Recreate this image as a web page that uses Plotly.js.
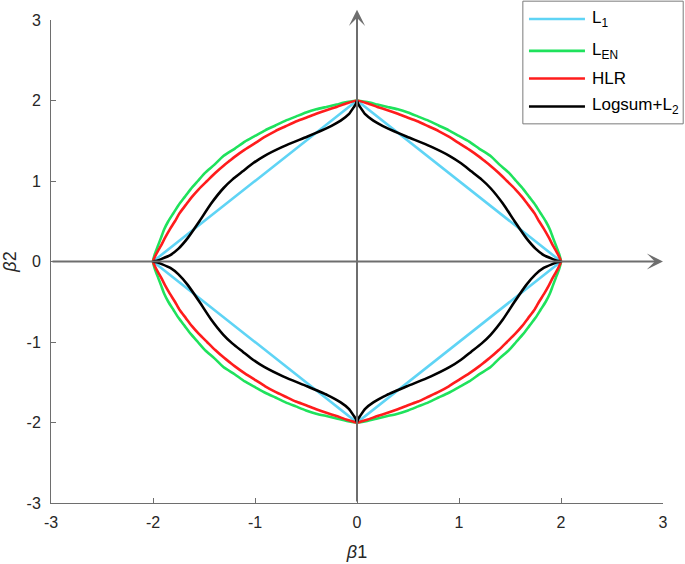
<!DOCTYPE html>
<html>
<head>
<meta charset="utf-8">
<script src="https://cdn.plot.ly/plotly-3.0.1.min.js"></script>
<style>html,body{margin:0;padding:0;background:#fff;}#chart{width:685px;height:564px;}</style>
</head>
<body>
<div id="chart"></div>
<script>
// L1 ball (diamond)
var l1X = [0, 2, 0, -2, 0];
var l1Y = [2, 0, -2, 0, 2];

// Elastic net contour (L_EN)
var enX = [0,0.1,0.2,0.3,0.4,0.5,0.6,0.7,0.8,0.9,1.0,1.1,1.2,1.31,1.4,1.49,1.56,1.63,1.69,1.75,1.8,1.85,1.89,1.92,1.95,1.98,2,
  1.98,1.95,1.92,1.89,1.85,1.8,1.75,1.69,1.63,1.56,1.49,1.4,1.31,1.2,1.1,1.0,0.9,0.8,0.7,0.6,0.5,0.4,0.3,0.2,0.1,0,
  -0.1,-0.2,-0.3,-0.4,-0.5,-0.6,-0.7,-0.8,-0.9,-1.0,-1.1,-1.2,-1.31,-1.4,-1.49,-1.56,-1.63,-1.69,-1.75,-1.8,-1.85,-1.89,-1.92,-1.95,-1.98,-2,
  -1.98,-1.95,-1.92,-1.89,-1.85,-1.8,-1.75,-1.69,-1.63,-1.56,-1.49,-1.4,-1.31,-1.2,-1.1,-1.0,-0.9,-0.8,-0.7,-0.6,-0.5,-0.4,-0.3,-0.2,-0.1,0];
var enY = [2,1.98,1.95,1.92,1.89,1.85,1.8,1.75,1.69,1.63,1.56,1.49,1.4,1.31,1.2,1.1,1.0,0.9,0.8,0.7,0.6,0.5,0.4,0.3,0.2,0.1,0,
  -0.1,-0.2,-0.3,-0.4,-0.5,-0.6,-0.7,-0.8,-0.9,-1.0,-1.1,-1.2,-1.31,-1.4,-1.49,-1.56,-1.63,-1.69,-1.75,-1.8,-1.85,-1.89,-1.92,-1.95,-1.98,-2,
  -1.98,-1.95,-1.92,-1.89,-1.85,-1.8,-1.75,-1.69,-1.63,-1.56,-1.49,-1.4,-1.31,-1.2,-1.1,-1.0,-0.9,-0.8,-0.7,-0.6,-0.5,-0.4,-0.3,-0.2,-0.1,0,
  0.1,0.2,0.3,0.4,0.5,0.6,0.7,0.8,0.9,1.0,1.1,1.2,1.31,1.4,1.49,1.56,1.63,1.69,1.75,1.8,1.85,1.89,1.92,1.95,1.98,2];

// HLR contour
var hlrX = [0,0.1,0.2,0.3,0.4,0.5,0.6,0.7,0.8,0.9,1.0,1.1,1.2,1.25,1.3,1.39,1.47,1.55,1.62,1.68,1.74,1.785,1.835,1.88,1.92,1.965,2,
  1.965,1.92,1.88,1.835,1.785,1.74,1.68,1.62,1.55,1.47,1.39,1.3,1.25,1.2,1.1,1.0,0.9,0.8,0.7,0.6,0.5,0.4,0.3,0.2,0.1,0,
  -0.1,-0.2,-0.3,-0.4,-0.5,-0.6,-0.7,-0.8,-0.9,-1.0,-1.1,-1.2,-1.25,-1.3,-1.39,-1.47,-1.55,-1.62,-1.68,-1.74,-1.785,-1.835,-1.88,-1.92,-1.965,-2,
  -1.965,-1.92,-1.88,-1.835,-1.785,-1.74,-1.68,-1.62,-1.55,-1.47,-1.39,-1.3,-1.25,-1.2,-1.1,-1.0,-0.9,-0.8,-0.7,-0.6,-0.5,-0.4,-0.3,-0.2,-0.1,0];
var hlrY = [2,1.965,1.92,1.88,1.835,1.785,1.74,1.68,1.62,1.55,1.47,1.39,1.3,1.25,1.2,1.1,1.0,0.9,0.8,0.7,0.6,0.5,0.4,0.3,0.2,0.1,0,
  -0.1,-0.2,-0.3,-0.4,-0.5,-0.6,-0.7,-0.8,-0.9,-1.0,-1.1,-1.2,-1.25,-1.3,-1.39,-1.47,-1.55,-1.62,-1.68,-1.74,-1.785,-1.835,-1.88,-1.92,-1.965,-2,
  -1.965,-1.92,-1.88,-1.835,-1.785,-1.74,-1.68,-1.62,-1.55,-1.47,-1.39,-1.3,-1.25,-1.2,-1.1,-1.0,-0.9,-0.8,-0.7,-0.6,-0.5,-0.4,-0.3,-0.2,-0.1,0,
  0.1,0.2,0.3,0.4,0.5,0.6,0.7,0.8,0.9,1.0,1.1,1.2,1.25,1.3,1.39,1.47,1.55,1.62,1.68,1.74,1.785,1.835,1.88,1.92,1.965,2];

// Logsum + L2 contour
var lsX = [0,0.01,0.03,0.08,0.16,0.29,0.49,0.72,0.91,1.02,1.12,1.22,1.31,1.43,1.55,1.66,1.75,1.83,1.92,1.96,2,
  1.96,1.92,1.83,1.75,1.66,1.55,1.43,1.31,1.22,1.12,1.02,0.91,0.72,0.49,0.29,0.16,0.08,0.03,0.01,0,
  -0.01,-0.03,-0.08,-0.16,-0.29,-0.49,-0.72,-0.91,-1.02,-1.12,-1.22,-1.31,-1.43,-1.55,-1.66,-1.75,-1.83,-1.92,-1.96,-2,
  -1.96,-1.92,-1.83,-1.75,-1.66,-1.55,-1.43,-1.31,-1.22,-1.12,-1.02,-0.91,-0.72,-0.49,-0.29,-0.16,-0.08,-0.03,-0.01,0];
var lsY = [2,1.96,1.92,1.83,1.75,1.66,1.55,1.43,1.31,1.22,1.12,1.02,0.91,0.72,0.49,0.29,0.16,0.08,0.03,0.01,0,
  -0.01,-0.03,-0.08,-0.16,-0.29,-0.49,-0.72,-0.91,-1.02,-1.12,-1.22,-1.31,-1.43,-1.55,-1.66,-1.75,-1.83,-1.92,-1.96,-2,
  -1.96,-1.92,-1.83,-1.75,-1.66,-1.55,-1.43,-1.31,-1.22,-1.12,-1.02,-0.91,-0.72,-0.49,-0.29,-0.16,-0.08,-0.03,-0.01,0,
  0.01,0.03,0.08,0.16,0.29,0.49,0.72,0.91,1.02,1.12,1.22,1.31,1.43,1.55,1.66,1.75,1.83,1.92,1.96,2];

var seriesNames = ['L<sub>1</sub>', 'L<sub>EN</sub>', 'HLR', 'Logsum+L<sub>2</sub>'];
var seriesColors = ['#5fd4f5', '#1fe25c', '#ff1c1c', '#000000'];
var seriesShapes = ['linear', 'spline', 'spline', 'spline'];
var ticks = [-3, -2, -1, 0, 1, 2, 3];

var FONT = 'Liberation Sans, Arial, Helvetica, sans-serif';
var AX = '#6e6e6e';

var xs = [l1X, enX, hlrX, lsX], ys = [l1Y, enY, hlrY, lsY];
var traces = xs.map(function (x, i) {
  return {x: x, y: ys[i], type: 'scatter', mode: 'lines', name: seriesNames[i],
    line: {color: seriesColors[i], width: 2.6, shape: seriesShapes[i], smoothing: 0.5, simplify: false},
    hoverinfo: 'skip'};
});

// manual legend (MATLAB style)
var legX0 = 0.771, legX1 = 1.033, legY0 = 0.785, legY1 = 1.039;
var rowY = [1.002, 0.936, 0.879, 0.821];
var shapes = [{type: 'rect', xref: 'paper', yref: 'paper', x0: legX0, x1: legX1, y0: legY0, y1: legY1,
  line: {color: '#7a7a7a', width: 1}, fillcolor: '#ffffff', layer: 'above'}];
var annotations = [];
rowY.forEach(function (ry, i) {
  shapes.push({type: 'line', xref: 'paper', yref: 'paper', x0: 0.781, x1: 0.8725, y0: ry, y1: ry,
    line: {color: seriesColors[i], width: 2.6}, layer: 'above'});
  annotations.push({xref: 'paper', yref: 'paper', x: 0.8807, y: ry, xanchor: 'left', yanchor: 'middle',
    text: seriesNames[i], showarrow: false, font: {family: FONT, size: 17, color: '#000'}});
});

// coordinate axes with arrows
annotations.push({xref: 'x', yref: 'y', axref: 'x', ayref: 'y', x: 3, y: 0, ax: -3, ay: 0, text: '',
  showarrow: true, arrowhead: 3, arrowsize: 1.35, arrowwidth: 2, arrowcolor: AX});
annotations.push({xref: 'x', yref: 'paper', axref: 'x', ayref: 'paper', x: 0, y: 1.021, ax: 0, ay: 0, text: '',
  showarrow: true, arrowhead: 3, arrowsize: 1.35, arrowwidth: 2, arrowcolor: AX});

var layout = {
  width: 685, height: 564,
  margin: {l: 51, r: 22, t: 20, b: 61},
  paper_bgcolor: '#fff', plot_bgcolor: '#fff',
  showlegend: false,
  font: {family: FONT, size: 16, color: '#262626'},
  xaxis: {range: [-3, 3], tickvals: ticks, ticktext: ticks.map(String), ticks: 'inside', ticklen: 5,
    tickcolor: AX, showline: true, linecolor: AX, linewidth: 1, showgrid: false, zeroline: false,
    ticklabelstandoff: 5, tickfont: {size: 16, color: '#262626'},
    title: {text: '<i>β</i>1', font: {size: 18, color: '#262626'}, standoff: 15}},
  yaxis: {range: [-3, 3], tickvals: ticks, ticktext: ticks.map(String), ticks: 'inside', ticklen: 5,
    tickcolor: AX, showline: true, linecolor: AX, linewidth: 1, showgrid: false, zeroline: false,
    ticklabelstandoff: 6, tickfont: {size: 16, color: '#262626'},
    title: {text: '<i>β</i>2', font: {size: 18, color: '#262626'}, standoff: 8}},
  shapes: shapes,
  annotations: annotations
};

Plotly.newPlot('chart', traces, layout, {staticPlot: true, displayModeBar: false});
</script>
</body>
</html>
